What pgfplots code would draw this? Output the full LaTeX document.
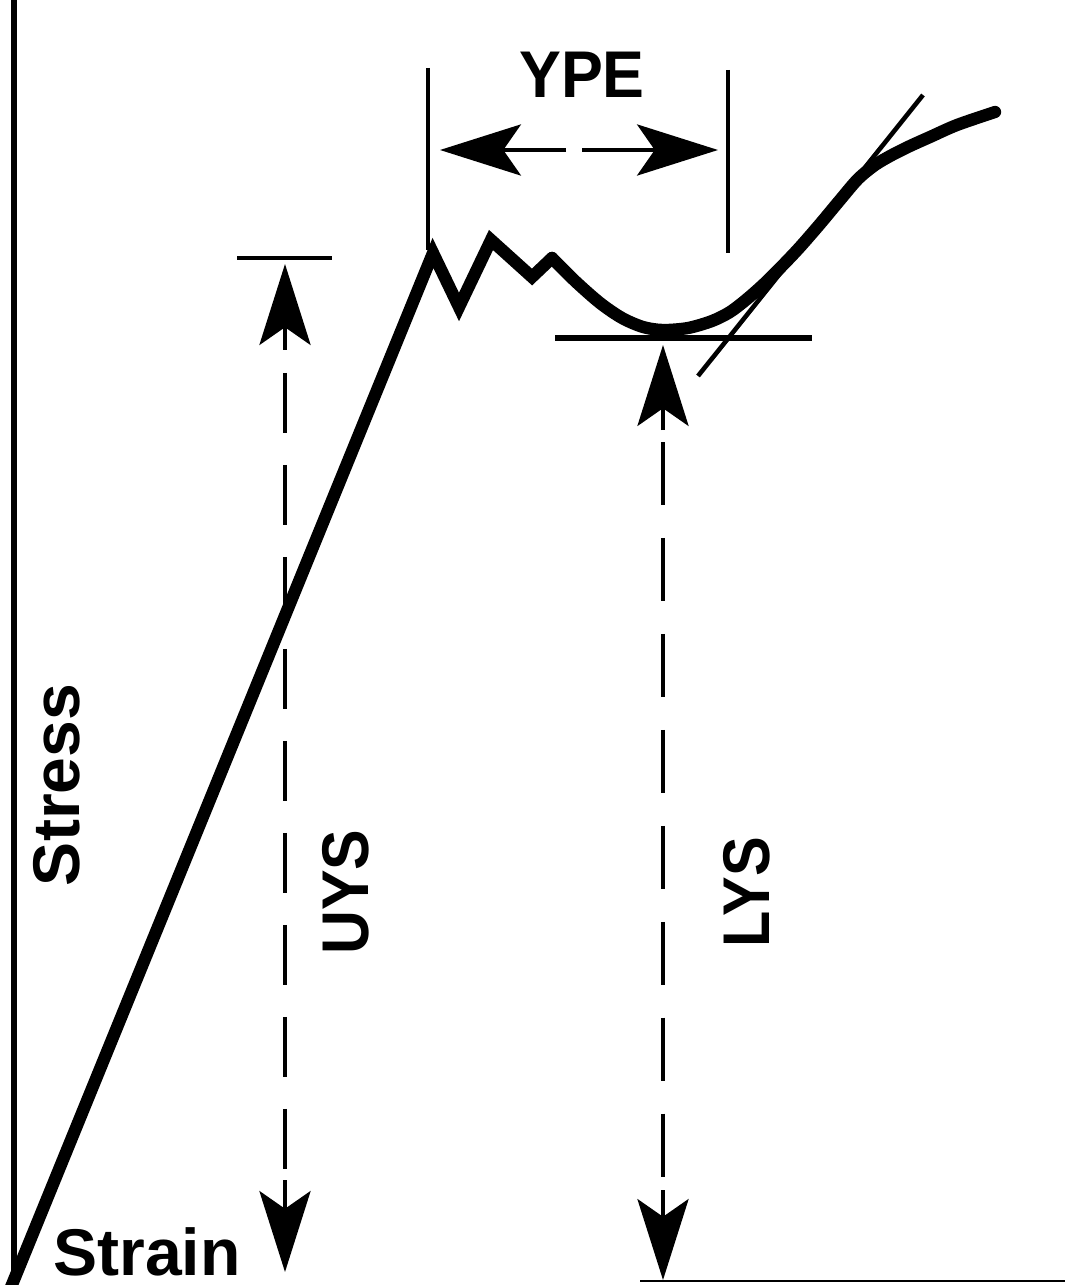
\documentclass[border=0pt]{standalone}
\usepackage{pgfplots}
\pgfplotsset{compat=1.18}
\usepackage{fontspec}
\setmainfont{Liberation Sans}
\usetikzlibrary{arrows.meta}
\tikzset{
  curve/.style={black, line width=3.5pt, line join=miter},
  thin/.style={black, line width=1.3pt},
  head/.style={black, line width=1.4pt, -{Stealth[length=23pt,width=14.5pt,inset=5pt]}},
  dashU/.style={black, line width=1.4pt, dash pattern=on 17.07pt off 9.1pt},
  dashL/.style={black, line width=1.4pt, dash pattern=on 17.9pt off 9.4pt},
  lbl/.style={font=\fontsize{18.8}{20}\selectfont\bfseries, inner sep=0pt},
}
\begin{document}
\begin{tikzpicture}
\begin{axis}[width=10.65cm, height=12.85cm, scale only axis,
  xmin=0, xmax=1065, ymin=0, ymax=1285, y dir=reverse,
  hide axis, clip=true, no markers]
% axes
\addplot[black, line width=1.5pt] coordinates {(14,0) (14,1285)};
\addplot[black, line width=0.7pt] coordinates {(640,1281) (1065,1281)};
% main curve
\addplot[curve, line cap=round] coordinates {
  (9,1292) (433,253) (459,307) (491,240) (532,277) (552,258)};
\addplot[curve, line cap=round, smooth, tension=0.5] coordinates {
  (552,258) (575,281) (600,303) (622,318) (643,327) (663,330) (688,328)
  (712,321) (730,312) (747,299) (765,283) (783,265) (800,247) (820,224)
  (840,200) (858,179) (875,165) (892,155) (910,146) (930,137) (957,125)
  (995,112)};
% tangent
\addplot[thin] coordinates {(698,376) (923,95)};
% YPE
\addplot[thin] coordinates {(428,68) (428,250)};
\addplot[thin] coordinates {(728,70) (728,253)};
\addplot[head] coordinates {(566,150) (440,150)};
\addplot[head] coordinates {(582,150) (718,150)};
% UYS
\addplot[thin] coordinates {(237,258) (332,258)};
\addplot[head] coordinates {(285,350) (285,264)};
\addplot[dashU] coordinates {(285,373) (285,1169)};
\addplot[head] coordinates {(285,1180) (285,1272)};
% LYS
\addplot[thin, line width=1.5pt] coordinates {(555,338) (812,338)};
\addplot[head] coordinates {(663,430) (663,345)};
\addplot[dashL] coordinates {(663,442) (663,1177)};
\addplot[head] coordinates {(663,1190) (663,1280)};
% labels
\node[lbl, xscale=0.95] at (582,75) {YPE};
\node[lbl, rotate=90] at (57,785) {Stress};
\node[lbl, rotate=90, xscale=0.92] at (346,892) {UYS};
\node[lbl, rotate=90, xscale=0.9] at (747,892) {LYS};
\node[lbl] at (147,1252) {Strain};
\end{axis}
\pgfresetboundingbox
\useasboundingbox (current axis.south west) rectangle (current axis.north east);
\end{tikzpicture}
\end{document}
